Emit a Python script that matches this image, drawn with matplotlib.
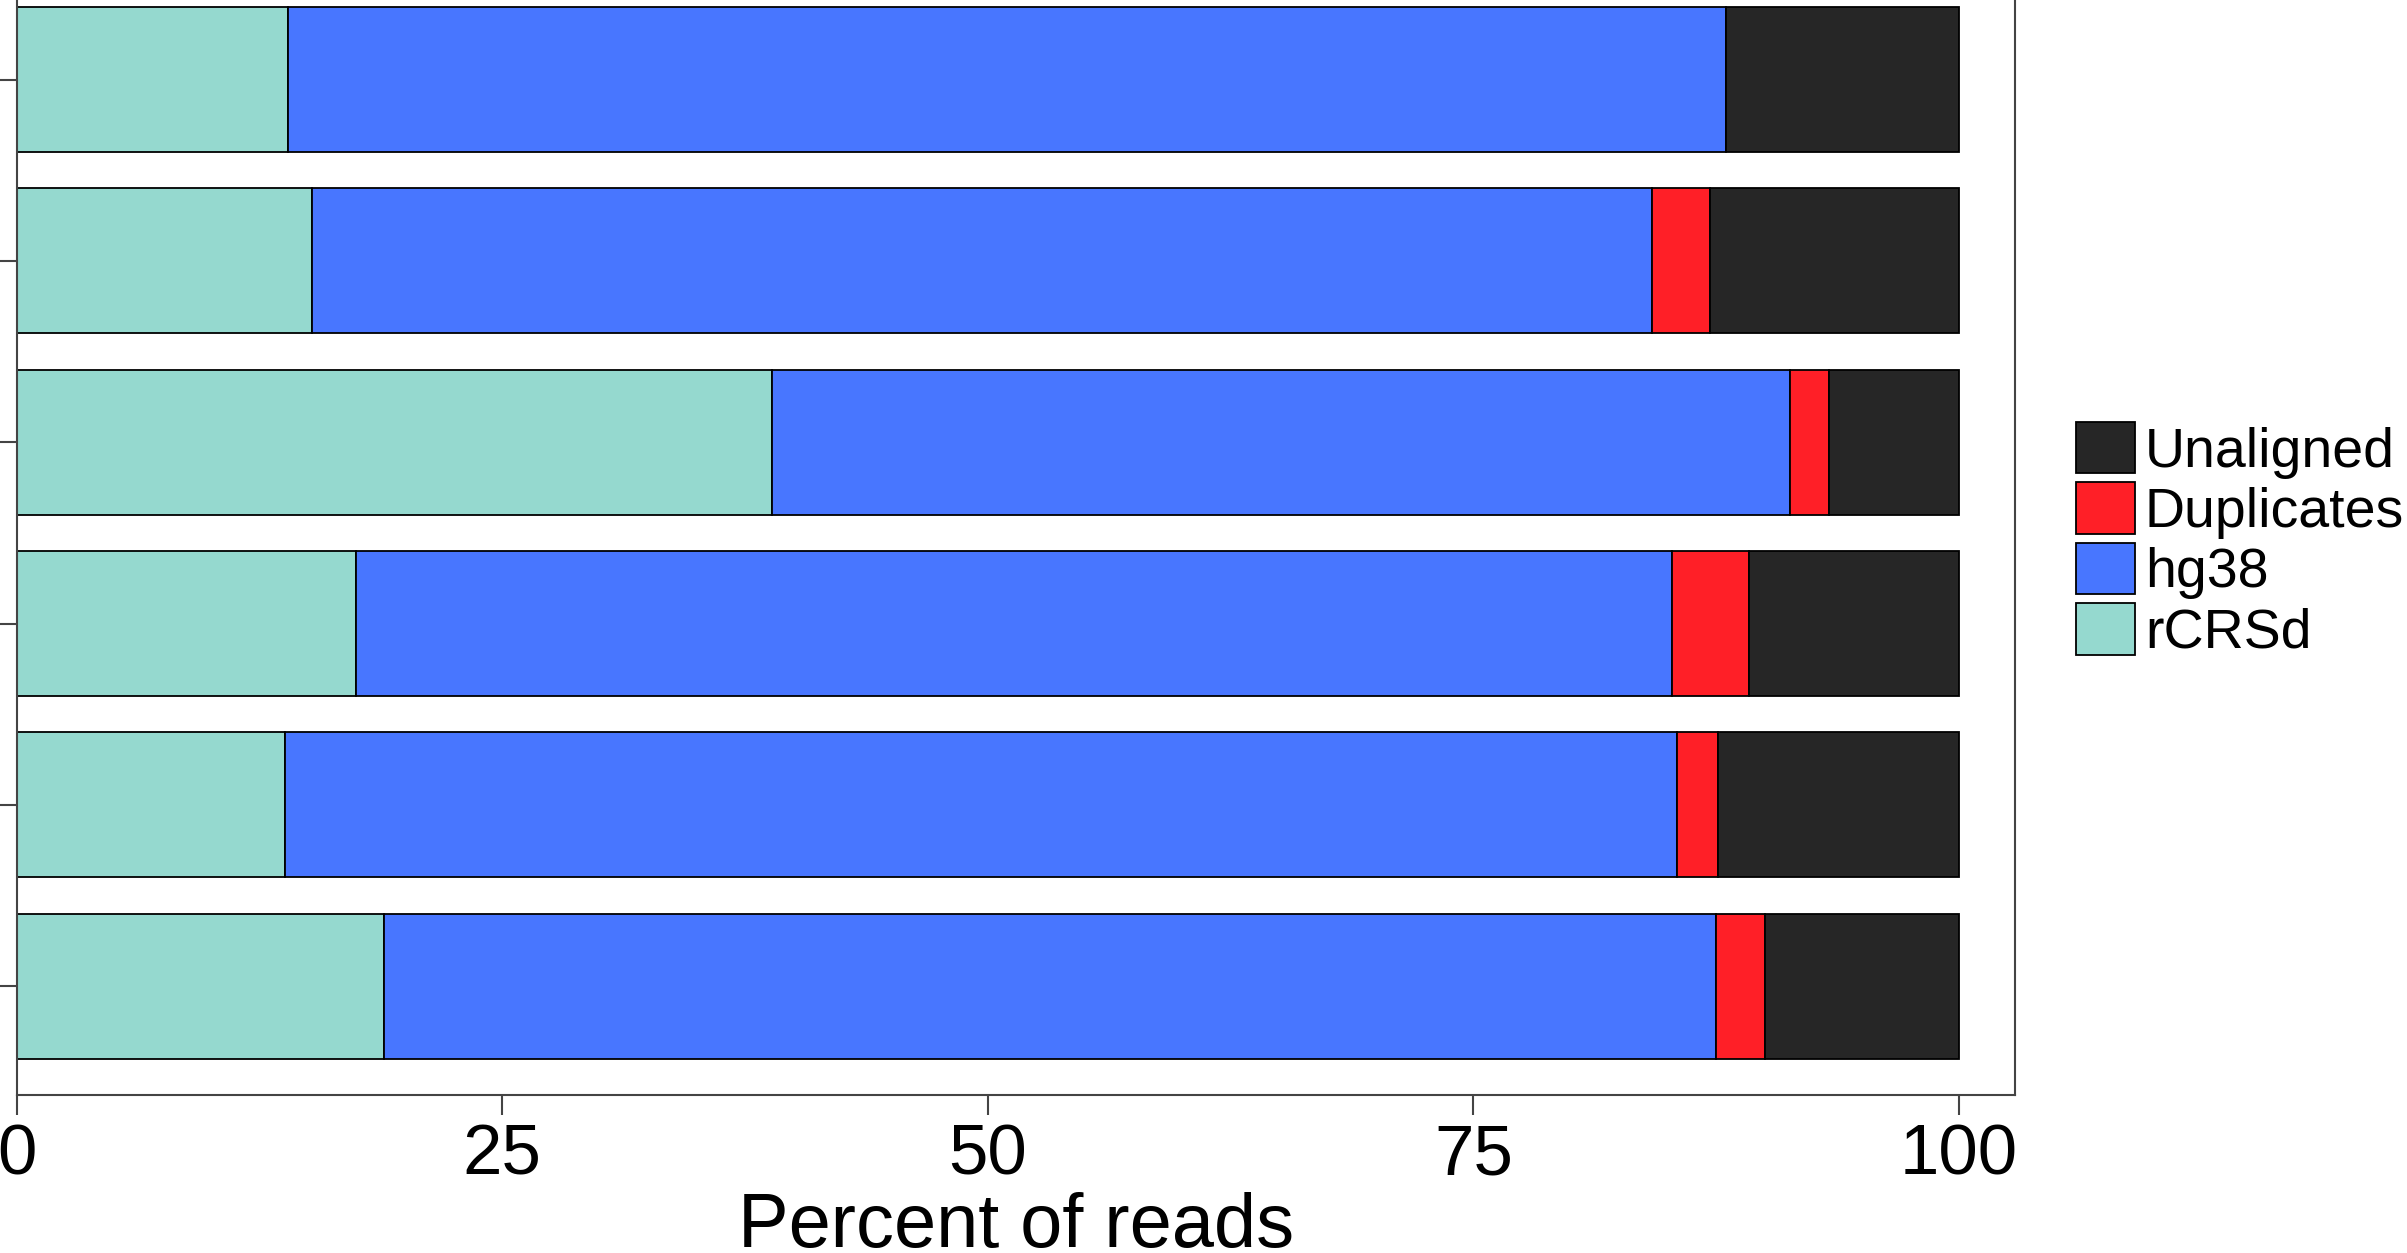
import numpy as np
import matplotlib
matplotlib.use('Agg')
from matplotlib import pyplot as plt

plt.rcParams['font.family'] = ['Liberation Sans', 'DejaVu Sans']

# rows from top to bottom (sample names are cut off in the original)
rcrsd = [14.0, 15.2, 38.9, 17.5, 13.8, 18.9]
hg38 = [74.0, 69.0, 52.4, 67.7, 71.7, 68.6]
duplicates = [0.0, 3.0, 2.0, 4.0, 2.1, 2.5]
unaligned = [12.0, 12.8, 6.7, 10.8, 12.4, 10.0]

series = [('rCRSd', rcrsd, '#95D9CF'),
          ('hg38', hg38, '#4876FF'),
          ('Duplicates', duplicates, '#FF1F27'),
          ('Unaligned', unaligned, '#262626')]

W, H, dpi = 2407, 1253, 100
fig = plt.figure(figsize=(W / dpi, H / dpi), dpi=dpi)

# axes box in pixels (top of the panel lies above the picture)
x0, x1 = 16.5, 2015
y_bot, y_top = 1095, -29.3
ax = fig.add_axes([x0 / W, 1 - y_bot / H, (x1 - x0) / W, (y_bot - y_top) / H])

n = len(rcrsd)
ypos = np.arange(n)[::-1]
left = np.zeros(n)
bars = {}
for name, vals, col in series:
    vals = np.array(vals)
    bars[name] = ax.barh(ypos, vals, left=left, height=0.8, color=col,
                         edgecolor='black', linewidth=1.3)
    left = left + vals

ax.set_xlim(0, 102.88)
ax.set_ylim(-0.6, n - 0.4)
ax.set_xticks([0, 25, 50, 75, 100])
ax.set_yticks(ypos)
ax.set_yticklabels([''] * n)
ax.tick_params(axis='both', length=14.4, width=1.5, color='#444444',
               labelsize=51, pad=6)
for s in ax.spines.values():
    s.set_color('#444444')
    s.set_linewidth(1.5)

ax.set_xlabel('Percent of reads', fontsize=54.5, labelpad=2)

handles = [bars[k] for k in ['Unaligned', 'Duplicates', 'hg38', 'rCRSd']]
leg = fig.legend(handles, ['Unaligned', 'Duplicates', 'hg38', 'rCRSd'],
                 loc='upper left', bbox_to_anchor=(2076 / W, 1 - 422 / H),
                 frameon=False, fontsize=40, borderpad=0, borderaxespad=0,
                 handlelength=1.06, handleheight=1.04, handletextpad=0.18,
                 labelspacing=0.07)

fig.savefig('out.png', dpi=dpi)
